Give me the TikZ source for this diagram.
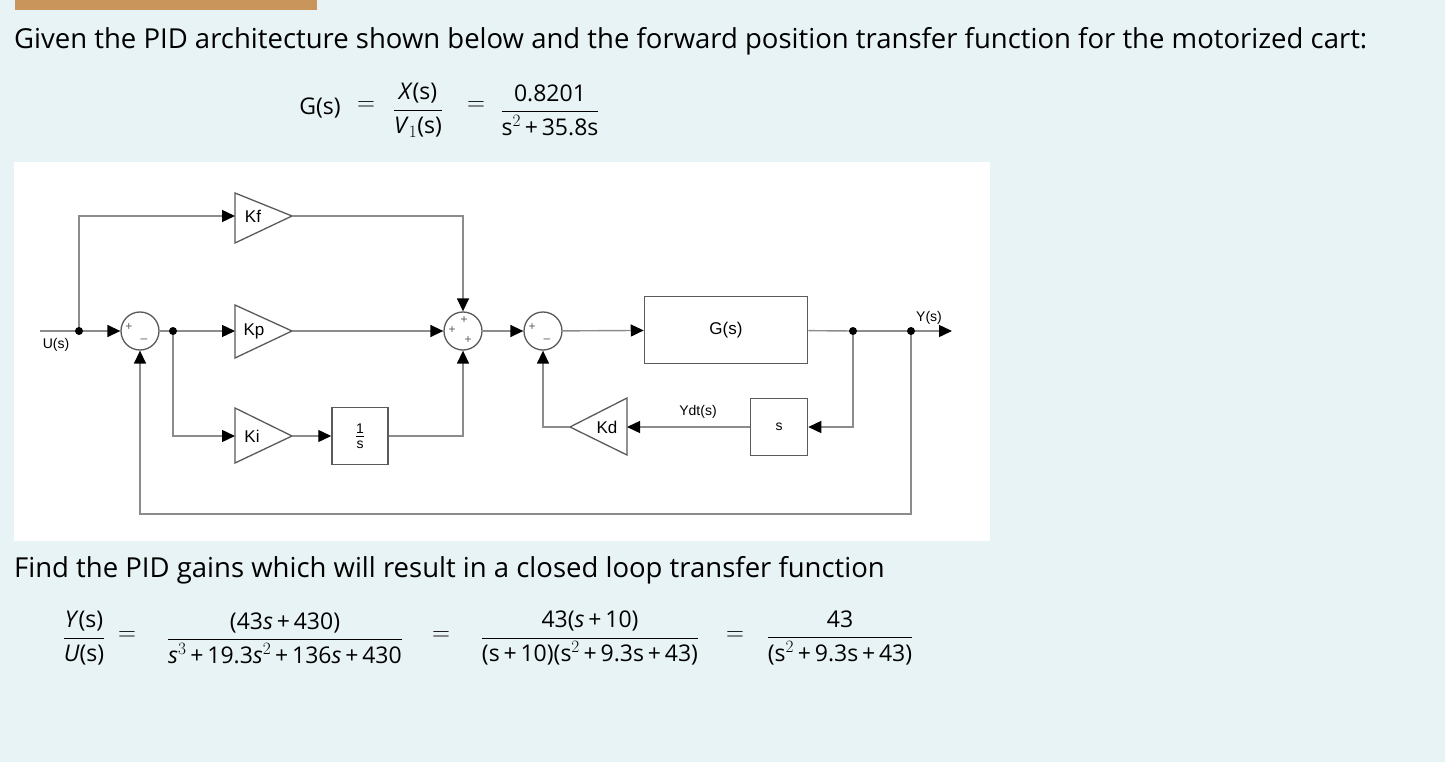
\documentclass[tikz,border=0pt]{standalone}
\usepackage{amsmath}
\usepackage{fontspec}
\setmainfont{Open Sans}
\newfontfamily\dfont{Liberation Sans}
\usetikzlibrary{arrows.meta}
\definecolor{bg}{HTML}{E8F3F5}
\definecolor{ln}{HTML}{8C8C8C}
\definecolor{bk}{HTML}{5A5A5A}
\definecolor{wood}{HTML}{C9955A}
\begin{document}
\begin{tikzpicture}[x=1pt,y=-1pt,
  wire/.style={draw=ln,line width=1.4pt},
  arr/.style={wire,-{Triangle[length=13pt,width=12pt,color=black]}},
  sumc/.style={circle,draw=bk,line width=1.3pt,minimum size=38pt,inner sep=0pt,fill=white},
  blk/.style={draw=bk,line width=1.5pt,fill=white,inner sep=0pt,font=\dfont\fontsize{17}{17}\selectfont},
  tri/.style={draw=bk,line width=1.3pt,fill=white},
  dlab/.style={font=\dfont\fontsize{17}{17}\selectfont,inner sep=0pt},
  sg/.style={font=\dfont\fontsize{12}{12}\selectfont,inner sep=0pt,text=bk},
  dot/.style={circle,fill=black,inner sep=0pt,minimum size=10pt},
  txt/.style={font=\fontsize{27.5}{30}\selectfont,anchor=west,inner sep=0pt},
  eq/.style={font=\fontsize{23}{27}\selectfont,inner sep=0pt}]
\useasboundingbox (0,0) rectangle (1445,762);
\fill[bg] (0,0) rectangle (1445,762);
\fill[wood] (15,0) rectangle (317,10);
\node[txt] (t1) at (14,41) {Given the PID architecture shown below and the forward position transfer function for the motorized cart:};
\node[eq] (e1) at (320,108) {$\text{G(s)}$};
\node[eq] (e2) at (366,106) {$=$};
\node[eq] (e3) at (418,110) {$\dfrac{\text{\textit{X}(s)}}{\text{\textit{V}$_1$(s)}}$};
\node[eq] (e4) at (476,106) {$=$};
\node[eq] (e5) at (550,110) {$\dfrac{\text{0.8201}}{\text{s$^2$\,+\,35.8s}}$};
\fill[white] (14,162) rectangle (990,541);
% blocks
\node[sumc] (s1) at (140,331) {};
\node[sumc] (s2) at (463,331) {};
\node[sumc] (s3) at (543,331) {};
\node[sg] at (129,327) {+}; \node[sg] at (144,341) {\textendash};
\node[sg] at (532,327) {+}; \node[sg] at (547,341) {\textendash};
\node[sg] at (464,320) {+}; \node[sg] at (452,330) {+}; \node[sg] at (468,340) {+};
\draw[tri] (235,193) -- (292,216) -- (235,243) -- cycle;
\draw[tri] (235,305) -- (292,331) -- (235,358) -- cycle;
\draw[tri] (235,408) -- (292,436) -- (235,463) -- cycle;
\draw[tri] (627,398) -- (570,427) -- (627,455) -- cycle;
\node[dlab] (kf) at (253,216) {Kf};
\node[dlab] (kp) at (254,331) {Kp};
\node[dlab] (ki) at (252,436) {Ki};
\node[dlab] (kd) at (607,427) {Kd};
\coordinate (kfi) at (235,216); \coordinate (kfo) at (292,216);
\coordinate (kpi) at (235,331); \coordinate (kpo) at (292,331);
\coordinate (kii) at (235,436); \coordinate (kio) at (292,436);
\coordinate (kdi) at (627,427); \coordinate (kdo) at (570,427);
\node[blk,minimum width=56pt,minimum height=57pt,font=\dfont\fontsize{20}{20}\selectfont] (int) at (360,436) {$\frac{\text{\dfont 1}}{\text{\dfont s}}$};
\node[blk,minimum width=163pt,minimum height=67pt] (g) at (726,330) {G(s)};
\node[blk,minimum width=57pt,minimum height=57pt,font=\dfont\fontsize{14}{14}\selectfont] (sb) at (779,427) {s};
\coordinate (u0) at (40,331);
\coordinate (d1) at (79,331);
\coordinate (d2) at (173,331);
\coordinate (d3) at (853,331);
\coordinate (d4) at (911,331);
\coordinate (yend) at (952,331);
\node[dlab,font=\dfont\fontsize{14}{14}\selectfont] (ul) at (56,345) {U(s)};
\node[dlab,font=\dfont\fontsize{14}{14}\selectfont] (yl) at (929,318) {Y(s)};
\node[dlab,font=\dfont\fontsize{14}{14}\selectfont] (ydl) at (698,412) {Ydt(s)};
% wires
\draw[wire] (u0) -- (d1);
\draw[arr] (d1) -- (s1);
\draw[arr] (d1) |- (kfi);
\draw[wire] (s1) -- (d2);
\draw[arr] (d2) -- (kpi);
\draw[arr] (d2) |- (kii);
\draw[arr] (kio) -- (int);
\draw[arr] (kfo) -| (s2);
\draw[arr] (kpo) -- (s2);
\draw[arr] (int) -| (s2);
\draw[arr] (s2) -- (s3);
\draw[arr] (s3) -- (g);
\draw[wire] (g) -- (d3);
\draw[wire] (d3) -- (d4);
\draw[arr] (d4) -- (yend);
\draw[arr] (d3) |- (sb);
\draw[arr] (sb) -- (kdi);
\draw[arr] (kdo) -| (s3);
\draw[arr] (d4) |- (300,514) -| (s1);
\foreach \d in {d1,d2,d3,d4} \fill (\d) circle (4pt);
% bottom text
\node[txt] (t2) at (14,570) {Find the PID gains which will result in a closed loop transfer function};
\node[eq] (f1) at (84,638) {$\dfrac{\text{\textit{Y}(s)}}{\text{\textit{U}(s)}}$};
\node[eq] (f2) at (127,636) {$=$};
\node[eq] (f3) at (285,638) {$\dfrac{\text{(43\textit{s}\,+\,430)}}{\text{\textit{s}$^3$\,+\,19.3\textit{s}$^2$\,+\,136\textit{s}\,+\,430}}$};
\node[eq] (f4) at (441,636) {$=$};
\node[eq] (f5) at (590,638) {$\dfrac{\text{43(\textit{s}\,+\,10)}}{\text{(s\,+\,10)(s$^2$\,+\,9.3s\,+\,43)}}$};
\node[eq] (f6) at (735,636) {$=$};
\node[eq] (f7) at (840,638) {$\dfrac{\text{43}}{\text{(s$^2$\,+\,9.3s\,+\,43)}}$};
\end{tikzpicture}
\end{document}
